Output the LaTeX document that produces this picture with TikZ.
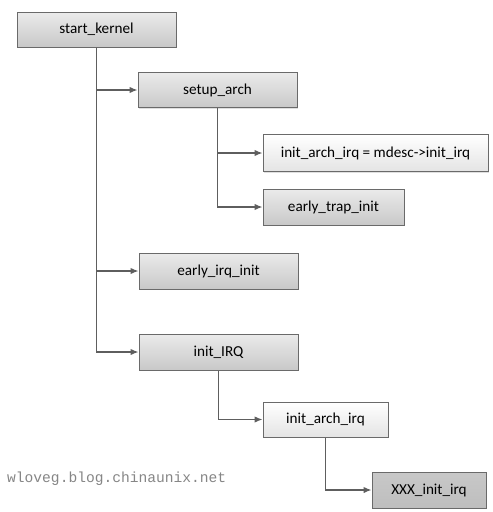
\documentclass[tikz,border=0pt]{standalone}
\usepackage{fontspec}
\setmainfont{Carlito}
\newfontfamily\wmfont{Liberation Mono}
\usetikzlibrary{shadows,arrows.meta}
\definecolor{lineg}{HTML}{5E5E5E}
\definecolor{boxline}{HTML}{6A6A6A}
\definecolor{boxtop}{HTML}{EBEBEB}
\definecolor{boxbot}{HTML}{C8C8C8}
\definecolor{whitetop}{HTML}{FFFFFF}
\definecolor{whitebot}{HTML}{E4E4E4}
\definecolor{wmgray}{HTML}{868686}
\tikzset{
  graybox/.style={draw=boxline, line width=1pt, top color=boxtop, bottom color=boxbot,
    inner sep=0pt, font=\fontsize{15.2}{17}\selectfont,
    drop shadow={shadow xshift=1.3pt, shadow yshift=-1.3pt, opacity=0.25}},
  lightbox/.style={graybox, top color=whitetop, bottom color=whitebot},
  darkbox/.style={graybox, top color=boxbot, bottom color=boxbot!95!black},
  conn/.style={draw=lineg, line width=1.3pt, -{Latex[length=8pt,width=6.5pt]}},
}
\begin{document}
\begin{tikzpicture}[x=1pt,y=-1pt]
\useasboundingbox[fill=white] (0,0) rectangle (493,512);
\node[graybox, minimum width=159pt, minimum height=35pt] (sk) at (96.5,29.5) {start\_kernel};
\node[graybox, minimum width=159pt, minimum height=35pt] (sa) at (217.5,90) {setup\_arch};
\node[lightbox, minimum width=225pt, minimum height=37pt] (md) at (375.5,153) {init\_arch\_irq = mdesc->init\_irq};
\node[graybox, minimum width=141pt, minimum height=36pt] (et) at (333.5,207) {early\_trap\_init};
\node[graybox, minimum width=159pt, minimum height=36pt] (ei) at (218.5,271) {early\_irq\_init};
\node[graybox, minimum width=159pt, minimum height=36pt] (ir) at (218.5,352) {init\_IRQ};
\node[lightbox, minimum width=125pt, minimum height=35pt] (ai) at (325.5,419.5) {init\_arch\_irq};
\node[darkbox, minimum width=114pt, minimum height=36pt] (xx) at (429,490) {XXX\_init\_irq};
\node[text=wmgray, font=\wmfont\fontsize{14.6}{16}\selectfont, anchor=west, inner sep=0pt] (wm) at (7,479) {wloveg.blog.chinaunix.net};
\draw[conn] (sk.south) |- (sa.west);
\draw[conn] (sk.south) |- (ei.west);
\draw[conn] (sk.south) |- (ir.west);
\draw[conn] (sa.south) |- (md.west);
\draw[conn] (sa.south) |- (et.west);
\draw[conn] (ir.south) |- (ai.west);
\draw[conn] (ai.south) |- (xx.west);
\end{tikzpicture}
\end{document}
